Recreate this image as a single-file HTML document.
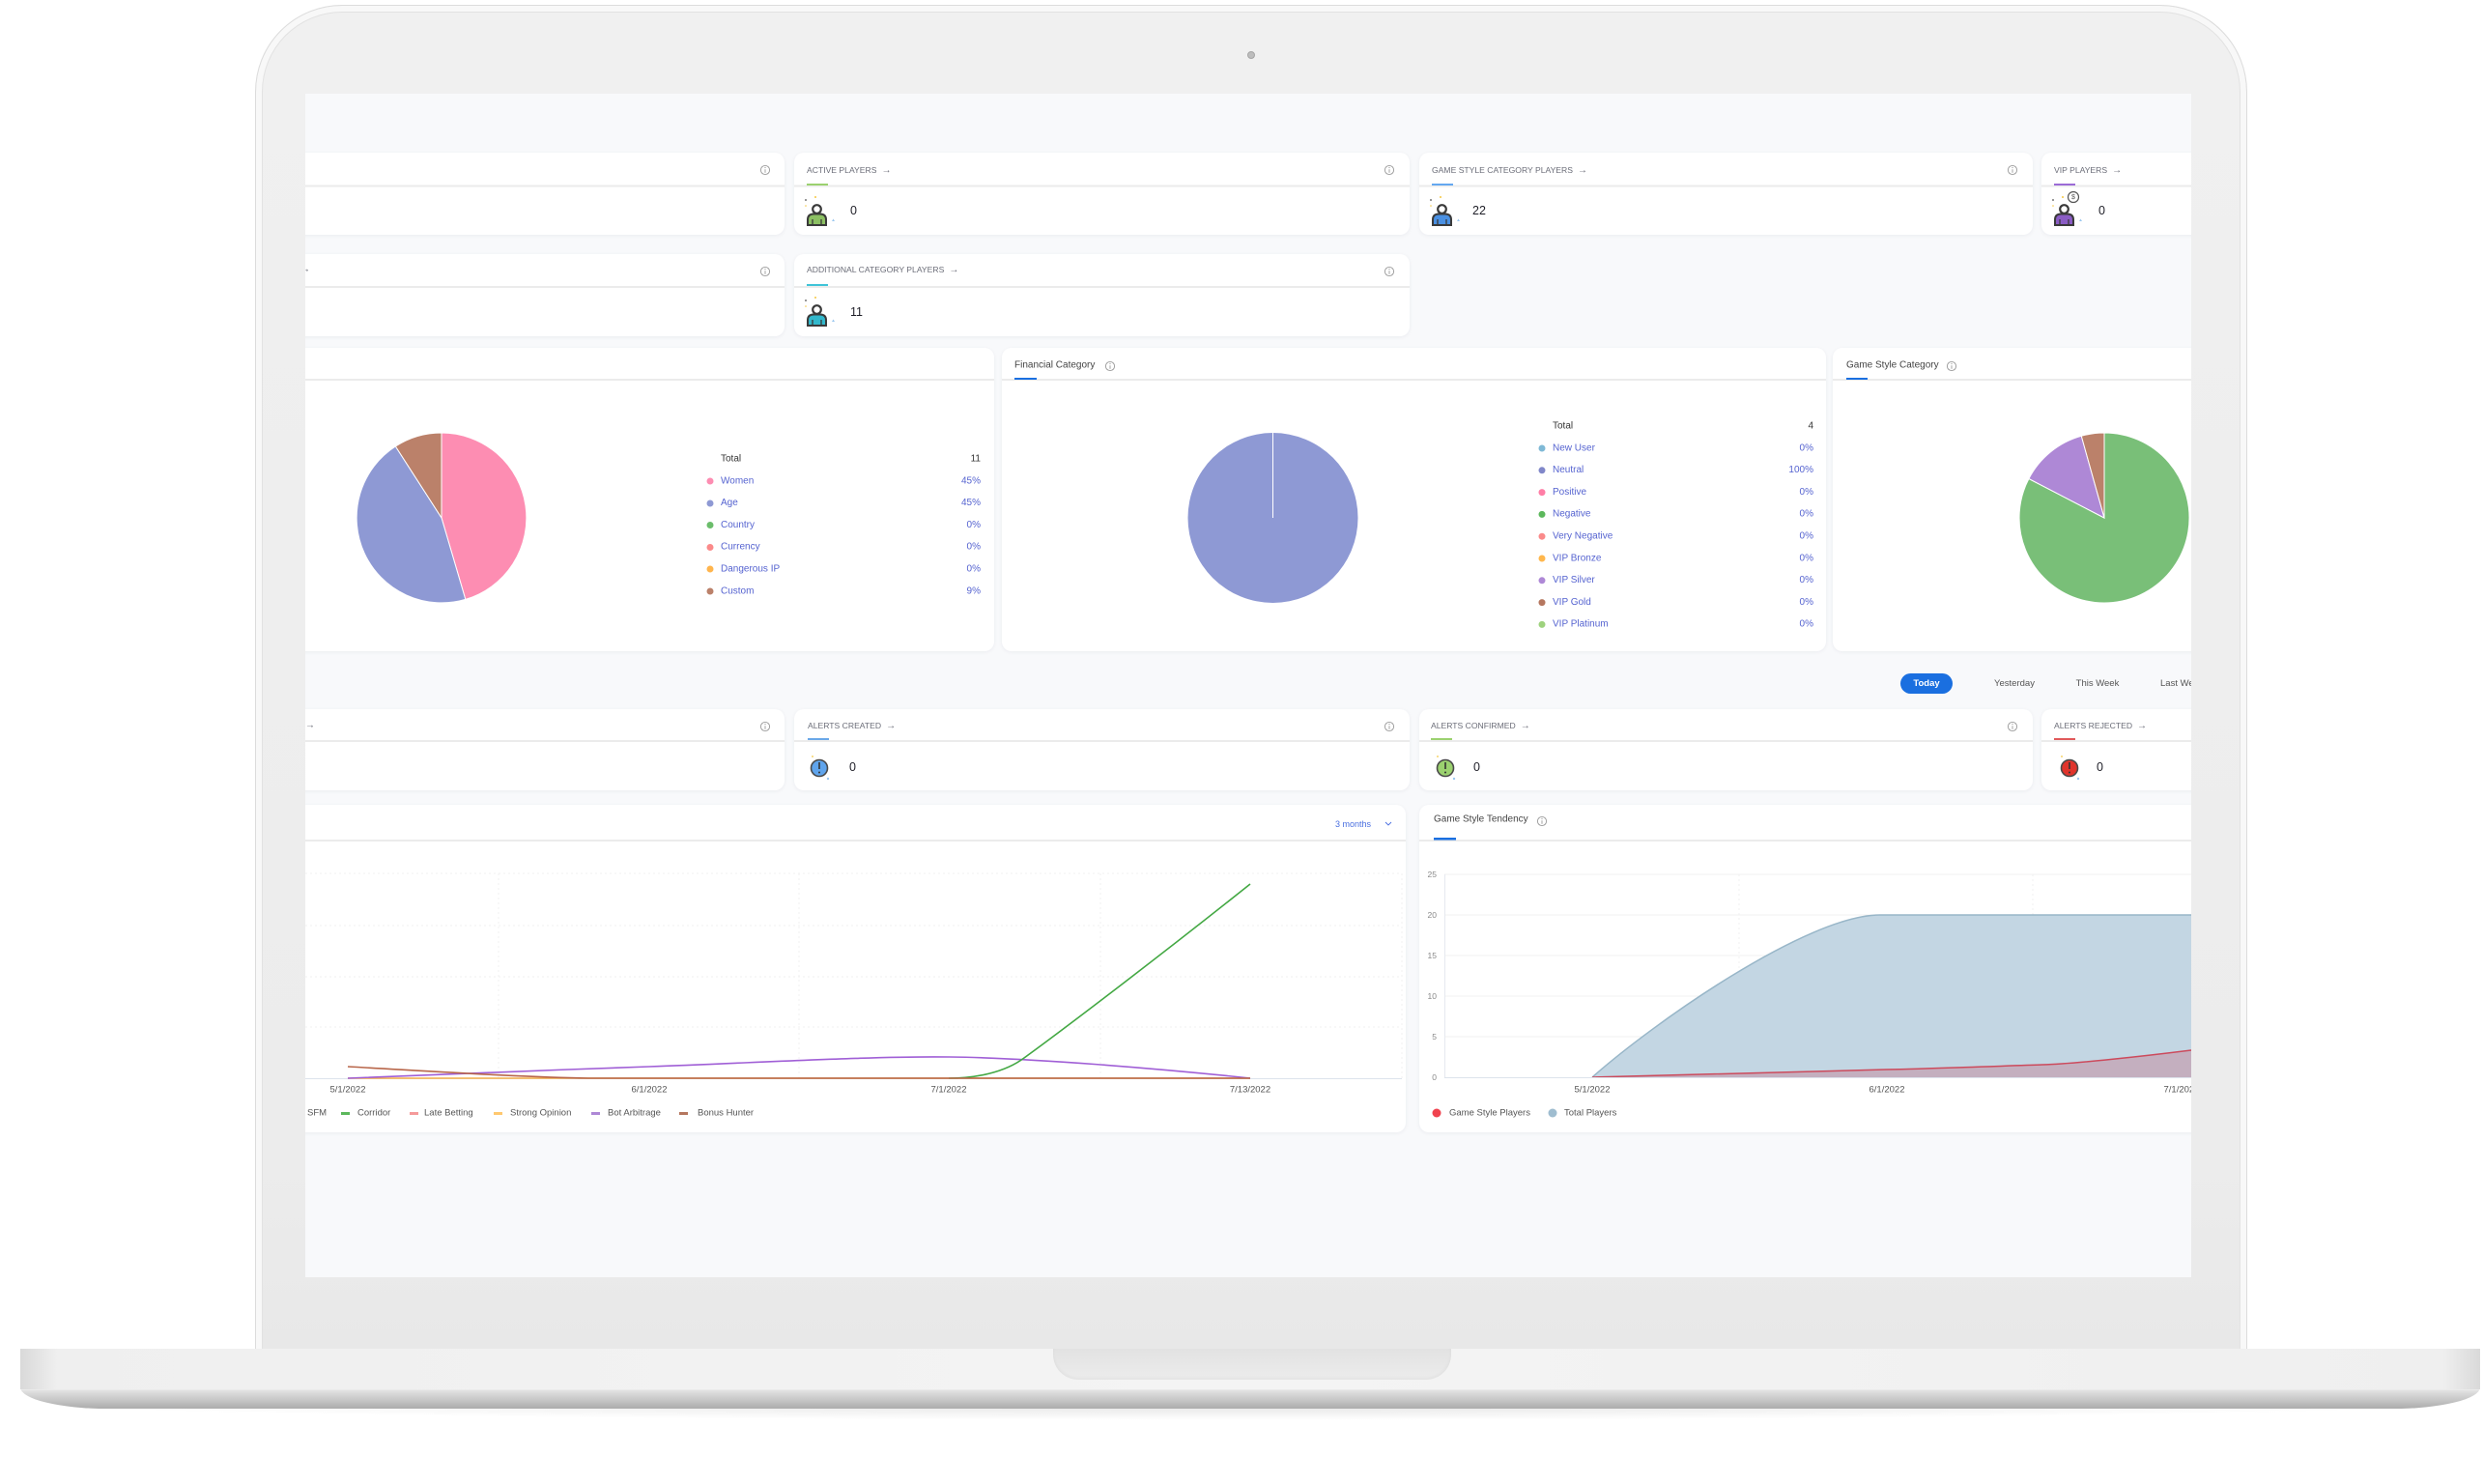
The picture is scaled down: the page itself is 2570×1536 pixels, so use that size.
<!DOCTYPE html>
<html><head><meta charset="utf-8">
<style>
html,body{margin:0;padding:0;background:#fff;}
body{width:2570px;height:1536px;position:relative;overflow:hidden;font-family:"Liberation Sans",sans-serif;}
.abs{position:absolute;}
.card{position:absolute;background:#fff;border-radius:10px;box-shadow:0 1px 4px rgba(30,40,60,.06);}
</style></head>
<body>
<!-- shadow under base -->
<div class="abs" style="left:60px;top:1440px;width:2460px;height:30px;border-radius:50%;background:radial-gradient(ellipse at center,rgba(0,0,0,.10),rgba(0,0,0,0) 70%);"></div>
<!-- lid -->
<div class="abs" style="left:264px;top:5px;width:2062px;height:1400px;border-radius:90px 90px 0 0;background:linear-gradient(#f0f0f0,#ececec 85%,#e8e8e8);border:1px solid #dcdcdc;box-shadow:inset 0 0 0 6px #f8f8f8, inset 0 0 0 7px #e2e2e2;box-sizing:border-box;"></div>
<!-- camera -->
<div class="abs" style="left:1291px;top:53px;width:8px;height:8px;border-radius:50%;background:#bdbdbd;border:1px solid #a5a5a5;box-sizing:border-box;"></div>
<!-- base -->
<div class="abs" style="left:21px;top:1396px;width:2546px;height:62px;border-radius:0 0 90px 90px / 0 0 22px 22px;overflow:hidden;background:linear-gradient(to bottom,#f3f3f3 0,#f1f1f1 42px,#e2e2e2 43px,#c9c9c9 52px,#ababab 62px);"></div>
<div class="abs" style="left:21px;top:1396px;width:2546px;height:42px;background:linear-gradient(to right,#d9d9d9 0,#efefef 1.5%,#f4f4f4 50%,#efefef 98.5%,#d9d9d9 100%);"></div>
<!-- notch -->
<div class="abs" style="left:1090px;top:1396px;width:412px;height:32px;border-radius:0 0 26px 26px;background:linear-gradient(#e2e2e2,#ececec);box-shadow:inset 0 -2px 3px rgba(0,0,0,.04);"></div>

<!-- screen -->
<div class="abs" style="left:316px;top:97px;width:1952px;height:1225px;overflow:hidden;background:#f8f9fb;">
<div class="abs" style="left:-316px;top:-97px;width:2570px;height:1536px;">
  <!-- row1 -->
  <div class="card" style="left:175px;top:158px;width:637px;height:85px"></div>
  <div class="card" style="left:822px;top:158px;width:637px;height:85px"></div>
  <div class="card" style="left:1469px;top:158px;width:635px;height:85px"></div>
  <div class="card" style="left:2113px;top:158px;width:640px;height:85px"></div>
  <!-- row2 -->
  <div class="card" style="left:175px;top:263px;width:637px;height:85px"></div>
  <div class="card" style="left:822px;top:263px;width:637px;height:85px"></div>
  <!-- row3 -->
  <div class="card" style="left:300px;top:360px;width:729px;height:314px"></div>
  <div class="card" style="left:1037px;top:360px;width:853px;height:314px"></div>
  <div class="card" style="left:1897px;top:360px;width:500px;height:314px"></div>
  <!-- row4 -->
  <div class="card" style="left:175px;top:734px;width:637px;height:84px"></div>
  <div class="card" style="left:822px;top:734px;width:637px;height:84px"></div>
  <div class="card" style="left:1469px;top:734px;width:635px;height:84px"></div>
  <div class="card" style="left:2113px;top:734px;width:640px;height:84px"></div>
  <!-- row5 -->
  <div class="card" style="left:300px;top:833px;width:1155px;height:339px"></div>
  <div class="card" style="left:1469px;top:833px;width:900px;height:339px"></div>

<svg class="abs" style="left:0;top:0" width="2570" height="1536" viewBox="0 0 2570 1536" font-family="Liberation Sans, sans-serif">
<defs>
  <g id="person">
    <path d="M1,23 L1,17.5 Q1,11.5 7,11.5 L14,11.5 Q20,11.5 20,17.5 L20,23 Z" fill="currentColor" stroke="#3a3a3a" stroke-width="2"/>
    <path d="M6,17 V23 M15,17 V23" stroke="#3a3a3a" stroke-width="1.3"/>
    <circle cx="10.5" cy="6.5" r="4.3" fill="#fff" stroke="#3a3a3a" stroke-width="2.2"/>
    <circle cx="-1" cy="-3" r="1" fill="#777"/>
    <circle cx="9" cy="-6" r="1" fill="#f5c842"/>
    <circle cx="-1" cy="3" r="0.8" fill="#f5c842"/>
    <path d="M26,19 l1.5,-2.5 l1.5,2.5 z" fill="#9cc8f0"/>
  </g>
  <g id="info">
    <circle r="4.6" fill="none" stroke="#9a9a9a" stroke-width="0.9"/>
    <line x1="0" y1="-0.8" x2="0" y2="2.8" stroke="#9a9a9a" stroke-width="0.9"/>
    <circle cy="-2.5" r="0.6" fill="#9a9a9a"/>
  </g>
</defs>

<!-- dividers -->
<g stroke="#ebebeb" stroke-width="2">
  <line x1="175" y1="192.5" x2="812" y2="192.5"/>
  <line x1="822" y1="192.5" x2="1459" y2="192.5"/>
  <line x1="1469" y1="192.5" x2="2104" y2="192.5"/>
  <line x1="2113" y1="192.5" x2="2753" y2="192.5"/>
  <line x1="175" y1="297" x2="812" y2="297"/>
  <line x1="822" y1="297" x2="1459" y2="297"/>
  <line x1="300" y1="393" x2="1029" y2="393"/>
  <line x1="1037" y1="393" x2="1890" y2="393"/>
  <line x1="1897" y1="393" x2="2397" y2="393"/>
  <line x1="175" y1="767" x2="812" y2="767"/>
  <line x1="822" y1="767" x2="1459" y2="767"/>
  <line x1="1469" y1="767" x2="2104" y2="767"/>
  <line x1="2113" y1="767" x2="2753" y2="767"/>
  <line x1="300" y1="870" x2="1455" y2="870"/>
  <line x1="1469" y1="870" x2="2369" y2="870"/>
</g>

<!-- card titles -->
<g font-size="8.6" fill="#6b6d78" dominant-baseline="central">
  <text x="835" y="176">ACTIVE PLAYERS<tspan dx="5" font-size="10">→</tspan></text>
  <text x="1482" y="176">GAME STYLE CATEGORY PLAYERS<tspan dx="5" font-size="10">→</tspan></text>
  <text x="2126" y="176">VIP PLAYERS<tspan dx="5" font-size="10">→</tspan></text>
  <text x="835" y="279">ADDITIONAL CATEGORY PLAYERS<tspan dx="5" font-size="10">→</tspan></text>
  <text x="311" y="279" font-size="10">→</text>
  <text x="836" y="751">ALERTS CREATED<tspan dx="5" font-size="10">→</tspan></text>
  <text x="1481" y="751">ALERTS CONFIRMED<tspan dx="5" font-size="10">→</tspan></text>
  <text x="2126" y="751">ALERTS REJECTED<tspan dx="5" font-size="10">→</tspan></text>
  <text x="316" y="751" font-size="10">→</text>
</g>
<!-- underlines -->
<rect x="835" y="190" width="22" height="2" fill="#9bd16f"/>
<rect x="1482" y="190" width="22" height="2" fill="#64a8f0"/>
<rect x="2126" y="190" width="22" height="2" fill="#9b6bd6"/>
<rect x="835" y="294" width="22" height="2" fill="#40c4d8"/>
<rect x="836" y="764" width="22" height="2" fill="#6aa8e8"/>
<rect x="1481" y="764" width="22" height="2" fill="#9bd16f"/>
<rect x="2126" y="764" width="22" height="2" fill="#e0595b"/>

<!-- info icons -->
<use href="#info" x="792" y="176"/>
<use href="#info" x="1438" y="176"/>
<use href="#info" x="2083" y="176"/>
<use href="#info" x="792" y="281"/>
<use href="#info" x="1438" y="281"/>
<use href="#info" x="792" y="752"/>
<use href="#info" x="1438" y="752"/>
<use href="#info" x="2083" y="752"/>

<!-- person icons -->
<use href="#person" x="835" y="210" style="color:#8cc063"/>
<use href="#person" x="1482" y="210" style="color:#4a90e2"/>
<use href="#person" x="2126" y="210" style="color:#8a5cc4"/>
<use href="#person" x="835" y="314" style="color:#32b8cc"/>
<g transform="translate(2146,204)">
  <circle r="5.5" fill="#fff" stroke="#555" stroke-width="1.2"/>
  <text x="0" y="0.5" font-size="7" text-anchor="middle" dominant-baseline="central" fill="#555">$</text>
</g>

<!-- values -->
<g font-size="12.5" fill="#1f1f28" dominant-baseline="central">
  <text x="880" y="218">0</text>
  <text x="1524" y="218">22</text>
  <text x="2172" y="218">0</text>
  <text x="880" y="323">11</text>
  <text x="879" y="794">0</text>
  <text x="1525" y="794">0</text>
  <text x="2170" y="794">0</text>
</g>

<!-- alert icons -->
<g>
  <circle cx="848" cy="795" r="8.5" fill="#5fa4ec" stroke="#4a4a4a" stroke-width="1.6"/>
  <line x1="848" y1="789" x2="848" y2="796" stroke="#333" stroke-width="1.6"/>
  <circle cx="848" cy="799.5" r="1" fill="#333"/>
  <circle cx="1496" cy="795" r="8.5" fill="#9bd16f" stroke="#4a4a4a" stroke-width="1.6"/>
  <line x1="1496" y1="789" x2="1496" y2="796" stroke="#333" stroke-width="1.6"/>
  <circle cx="1496" cy="799.5" r="1" fill="#333"/>
  <circle cx="2142" cy="795" r="8.5" fill="#e0342c" stroke="#4a4a4a" stroke-width="1.6"/>
  <line x1="2142" y1="789" x2="2142" y2="796" stroke="#333" stroke-width="1.6"/>
  <circle cx="2142" cy="799.5" r="1" fill="#333"/>
  <circle cx="841" cy="783" r="0.9" fill="#f5c842"/><circle cx="857" cy="806" r="1.2" fill="#9cc8f0"/>
  <circle cx="1488" cy="783" r="0.9" fill="#f5c842"/><circle cx="1505" cy="806" r="1.2" fill="#9cc8f0"/>
  <circle cx="2134" cy="783" r="0.9" fill="#f5c842"/><circle cx="2151" cy="806" r="1.2" fill="#9cc8f0"/>
</g>

<!-- panel titles -->
<g font-size="10" fill="#444" dominant-baseline="central">
  <text x="1050" y="378">Financial Category</text>
  <text x="1911" y="378">Game Style Category</text>
  <text x="1484" y="848">Game Style Tendency</text>
</g>
<rect x="1050" y="391" width="23" height="2" fill="#1a6fe0"/>
<rect x="1911" y="391" width="22" height="2" fill="#1a6fe0"/>
<rect x="1484" y="867" width="23" height="2.5" fill="#1a6fe0"/>
<use href="#info" x="1149" y="379"/>
<use href="#info" x="2020" y="379"/>
<use href="#info" x="1596" y="850"/>

<!-- pie 1 -->
<g stroke="#fff" stroke-width="1">
  <path d="M457,536 L457,448 A88,88 0 0 1 481.8,620.4 Z" fill="#fd8db2"/>
  <path d="M457,536 L481.8,620.4 A88,88 0 0 1 409.4,462 Z" fill="#8e99d4"/>
  <path d="M457,536 L409.4,462 A88,88 0 0 1 457,448 Z" fill="#bb816a"/>
</g>
<!-- legend 1 -->
<g font-size="10" dominant-baseline="central">
  <text x="746" y="475" fill="#333">Total</text><text x="1015" y="475" fill="#333" text-anchor="end">11</text>
  <g fill="#5563d0">
  <text x="746" y="497.8">Women</text><text x="1015" y="497.8" text-anchor="end">45%</text>
  <text x="746" y="520.6">Age</text><text x="1015" y="520.6" text-anchor="end">45%</text>
  <text x="746" y="543.4">Country</text><text x="1015" y="543.4" text-anchor="end">0%</text>
  <text x="746" y="566.2">Currency</text><text x="1015" y="566.2" text-anchor="end">0%</text>
  <text x="746" y="589">Dangerous IP</text><text x="1015" y="589" text-anchor="end">0%</text>
  <text x="746" y="611.8">Custom</text><text x="1015" y="611.8" text-anchor="end">9%</text>
  </g>
</g>
<circle cx="735" cy="498" r="3.5" fill="#fd8db2"/>
<circle cx="735" cy="521" r="3.5" fill="#8e99d4"/>
<circle cx="735" cy="543.5" r="3.5" fill="#6bbd6b"/>
<circle cx="735" cy="566.5" r="3.5" fill="#fb8a8a"/>
<circle cx="735" cy="589" r="3.5" fill="#ffb54d"/>
<circle cx="735" cy="612" r="3.5" fill="#bb816a"/>

<!-- pie 2 -->
<circle cx="1317.5" cy="536" r="88" fill="#8e99d4"/>
<line x1="1317.5" y1="536" x2="1317.5" y2="448" stroke="#fff" stroke-width="1"/>
<g font-size="10" dominant-baseline="central">
  <text x="1607" y="441" fill="#333">Total</text><text x="1877" y="441" fill="#333" text-anchor="end">4</text>
  <g fill="#5563d0">
  <text x="1607" y="463.8">New User</text><text x="1877" y="463.8" text-anchor="end">0%</text>
  <text x="1607" y="486.6">Neutral</text><text x="1877" y="486.6" text-anchor="end">100%</text>
  <text x="1607" y="509.4">Positive</text><text x="1877" y="509.4" text-anchor="end">0%</text>
  <text x="1607" y="532.2">Negative</text><text x="1877" y="532.2" text-anchor="end">0%</text>
  <text x="1607" y="555">Very Negative</text><text x="1877" y="555" text-anchor="end">0%</text>
  <text x="1607" y="577.8">VIP Bronze</text><text x="1877" y="577.8" text-anchor="end">0%</text>
  <text x="1607" y="600.6">VIP Silver</text><text x="1877" y="600.6" text-anchor="end">0%</text>
  <text x="1607" y="623.4">VIP Gold</text><text x="1877" y="623.4" text-anchor="end">0%</text>
  <text x="1607" y="646.2">VIP Platinum</text><text x="1877" y="646.2" text-anchor="end">0%</text>
  </g>
</g>
<circle cx="1596" cy="464" r="3.5" fill="#7fb9d6"/>
<circle cx="1596" cy="486.8" r="3.5" fill="#8087c9"/>
<circle cx="1596" cy="509.6" r="3.5" fill="#ff7ea6"/>
<circle cx="1596" cy="532.4" r="3.5" fill="#5cb85c"/>
<circle cx="1596" cy="555.2" r="3.5" fill="#fa8a8a"/>
<circle cx="1596" cy="578" r="3.5" fill="#ffb74d"/>
<circle cx="1596" cy="600.8" r="3.5" fill="#ae88d6"/>
<circle cx="1596" cy="623.6" r="3.5" fill="#b5775f"/>
<circle cx="1596" cy="646.4" r="3.5" fill="#9ed27e"/>

<!-- pie 3 -->
<g stroke="#fff" stroke-width="1">
  <path d="M2178,536 L2178,448 A88,88 0 1 1 2099.9,495.5 Z" fill="#79bf78"/>
  <path d="M2178,536 L2099.9,495.5 A88,88 0 0 1 2154.3,451.3 Z" fill="#ae88d6"/>
  <path d="M2178,536 L2154.3,451.3 A88,88 0 0 1 2178,448 Z" fill="#bb816a"/>
</g>

<!-- date tabs -->
<rect x="1967" y="697" width="54" height="21" rx="10.5" fill="#1a6fe0"/>
<g font-size="9.5" dominant-baseline="central">
  <text x="1994" y="707.5" fill="#fff" font-weight="bold" text-anchor="middle">Today</text>
  <text x="2085" y="707.5" fill="#555" text-anchor="middle">Yesterday</text>
  <text x="2171" y="707.5" fill="#555" text-anchor="middle">This Week</text>
  <text x="2236" y="707.5" fill="#555">Last Week</text>
</g>

<!-- left line chart -->
<text x="1382" y="853" font-size="9" fill="#4a6fe0" dominant-baseline="central">3 months</text>
<path d="M1434,851 l3,3 l3,-3" fill="none" stroke="#4a6fe0" stroke-width="0.9"/>
<g stroke="#f1f1f1" stroke-width="1" stroke-dasharray="2,3">
  <line x1="316" y1="904" x2="1451" y2="904"/>
  <line x1="316" y1="958" x2="1451" y2="958"/>
  <line x1="316" y1="1011" x2="1451" y2="1011"/>
  <line x1="316" y1="1063" x2="1451" y2="1063"/>
  <line x1="516" y1="904" x2="516" y2="1116"/>
  <line x1="827" y1="904" x2="827" y2="1116"/>
  <line x1="1139" y1="904" x2="1139" y2="1116"/>
  <line x1="1451" y1="904" x2="1451" y2="1116"/>
</g>
<line x1="316" y1="1116.5" x2="1451" y2="1116.5" stroke="#dde3ec" stroke-width="1"/>
<g fill="none" stroke-width="1.6">
  <line x1="360" y1="1116" x2="1294" y2="1116" stroke="#f5b04a"/>
  <path d="M360,1116 C420,1113 560,1108 672,1104 S900,1093 983,1094 S1200,1106 1294,1116" stroke="#a05fd6"/>
  <path d="M982,1116 C1010,1116 1040,1110 1060,1095 C1100,1066 1200,990 1294,915" stroke="#43a843"/>
  <path d="M360,1104 C450,1109 540,1115 609,1116 L1294,1116" stroke="#b8664a"/>
</g>
<g font-size="9.5" fill="#555" text-anchor="middle" dominant-baseline="central">
  <text x="360" y="1128">5/1/2022</text>
  <text x="672" y="1128">6/1/2022</text>
  <text x="982" y="1128">7/1/2022</text>
  <text x="1294" y="1128">7/13/2022</text>
</g>
<g font-size="9.5" fill="#555" dominant-baseline="central">
  <text x="318" y="1152">SFM</text>
  <rect x="353" y="1151" width="9" height="3" fill="#5cb85c"/><text x="370" y="1152">Corridor</text>
  <rect x="424" y="1151" width="9" height="3" fill="#f59a9a"/><text x="439" y="1152">Late Betting</text>
  <rect x="511" y="1151" width="9" height="3" fill="#ffc870"/><text x="528" y="1152">Strong Opinion</text>
  <rect x="612" y="1151" width="9" height="3" fill="#ae88d6"/><text x="629" y="1152">Bot Arbitrage</text>
  <rect x="703" y="1151" width="9" height="3" fill="#b5775f"/><text x="722" y="1152">Bonus Hunter</text>
</g>

<!-- right area chart -->
<g stroke="#f0f0f0" stroke-width="1">
  <line x1="1495" y1="905" x2="2268" y2="905"/>
  <line x1="1495" y1="947" x2="2268" y2="947"/>
  <line x1="1495" y1="989" x2="2268" y2="989"/>
  <line x1="1495" y1="1031" x2="2268" y2="1031"/>
  <line x1="1495" y1="1073" x2="2268" y2="1073"/>
</g>
<g stroke="#f1f1f1" stroke-width="1" stroke-dasharray="2,3">
  <line x1="1800" y1="905" x2="1800" y2="1115"/>
  <line x1="2104" y1="905" x2="2104" y2="1115"/>
</g>
<line x1="1495.5" y1="905" x2="1495.5" y2="1115" stroke="#e6e9ef"/>
<path d="M1648,1115 C1710,1060 1870,947 1946,947 L2268,947 L2268,1115 Z" fill="#c3d6e3" stroke="none"/>
<path d="M1648,1115 C1710,1060 1870,947 1946,947 L2268,947" fill="none" stroke="#98b6c8" stroke-width="1.5"/>
<path d="M1648,1115 C1800,1111 1900,1108 1952,1107 S2080,1103 2114,1102 S2220,1093 2268,1087 L2268,1115 Z" fill="#c4afbf"/>
<path d="M1648,1115 C1800,1111 1900,1108 1952,1107 S2080,1103 2114,1102 S2220,1093 2268,1087" fill="none" stroke="#cc4a5c" stroke-width="1.5"/>
<line x1="1495" y1="1115.5" x2="2268" y2="1115.5" stroke="#dde3ec"/>
<g font-size="8.5" fill="#888" text-anchor="end" dominant-baseline="central">
  <text x="1487" y="905">25</text>
  <text x="1487" y="947">20</text>
  <text x="1487" y="989">15</text>
  <text x="1487" y="1031">10</text>
  <text x="1487" y="1073">5</text>
  <text x="1487" y="1115">0</text>
</g>
<g font-size="9.5" fill="#555" text-anchor="middle" dominant-baseline="central">
  <text x="1648" y="1128">5/1/2022</text>
  <text x="1953" y="1128">6/1/2022</text>
  <text x="2258" y="1128">7/1/2022</text>
</g>
<circle cx="1487" cy="1152" r="4.5" fill="#f0434f"/>
<circle cx="1607" cy="1152" r="4.5" fill="#9fbdd0"/>
<g font-size="9.5" fill="#555" dominant-baseline="central">
  <text x="1500" y="1152">Game Style Players</text>
  <text x="1619" y="1152">Total Players</text>
</g>
</svg>
</div>
</div>
</body></html>
